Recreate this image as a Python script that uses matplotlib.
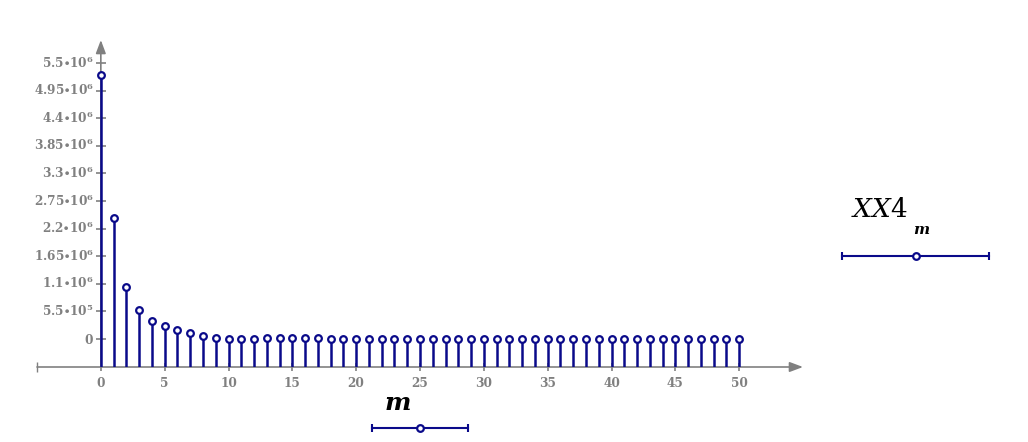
import numpy as np
import matplotlib.pyplot as plt
from matplotlib.lines import Line2D

# values
m = np.arange(0, 51)
xx4 = np.array([
    5.26e6, 2.405e6, 1.04e6, 5.78e5, 3.65e5, 2.6e5, 1.8e5, 1.15e5, 6.0e4, 2.5e4,
    0.0, -5e3, 6e3, 2.0e4, 2.7e4, 2.7e4, 2.0e4, 1.3e4, 7e3, 0.0,
    -5e3, -1.0e4, -8e3, -6e3, -4e3, -3e3, -2e3, -2e3, -3e3, -4e3,
    -4e3, -3e3, -2e3, -2e3, -2e3, -2e3, -2e3, -2e3, -2e3, -2e3,
    -2e3, -2e3, -2e3, -2e3, -2e3, -2e3, -2e3, -2e3, -2e3, -2e3,
    -2e3])
y_ticks = [0, 5.5e5, 1.1e6, 1.65e6, 2.2e6, 2.75e6, 3.3e6, 3.85e6, 4.4e6, 4.95e6, 5.5e6]
y_labels = [r"$\mathbf{0}$", r"$\mathbf{5.5{\bullet}10^{5}}$",
            r"$\mathbf{1.1{\bullet}10^{6}}$", r"$\mathbf{1.65{\bullet}10^{6}}$",
            r"$\mathbf{2.2{\bullet}10^{6}}$", r"$\mathbf{2.75{\bullet}10^{6}}$",
            r"$\mathbf{3.3{\bullet}10^{6}}$", r"$\mathbf{3.85{\bullet}10^{6}}$",
            r"$\mathbf{4.4{\bullet}10^{6}}$", r"$\mathbf{4.95{\bullet}10^{6}}$",
            r"$\mathbf{5.5{\bullet}10^{6}}$"]
x_ticks = list(range(0, 51, 5))

navy = "#0a0a8a"
grey = "#808080"
W, H = 1028, 442
plt.rcParams["mathtext.fontset"] = "dejavuserif"

fig = plt.figure(figsize=(W / 100, H / 100), dpi=100)
ax = fig.add_axes([37 / W, (H - 367) / H, (803 - 37) / W, (367 - 40) / H])
xmin, xmax = -5.0, 55.0
ymin, ymax = -0.558e6, 5.958e6
ax.set_xlim(xmin, xmax)
ax.set_ylim(ymin, ymax)
ax.axis("off")

# axes with arrows
ax.annotate("", xy=(xmax, ymin), xytext=(xmin, ymin),
            arrowprops=dict(arrowstyle="-|>,head_length=0.8,head_width=0.3",
                            color=grey, lw=1.2, shrinkA=0, shrinkB=0))
ax.annotate("", xy=(0, ymax), xytext=(0, ymin),
            arrowprops=dict(arrowstyle="-|>,head_length=0.8,head_width=0.3",
                            color=grey, lw=1.2, shrinkA=0, shrinkB=0))
ax.plot([xmin], [ymin], marker="|", ms=7, color=grey, clip_on=False)

tfont = dict(family=["DejaVu Serif"], weight="bold", size=8.7, color=grey)
for t, lab in zip(y_ticks, y_labels):
    ax.plot([0], [t], marker="_", ms=7, mew=1.2, color=grey, clip_on=False)
    ax.annotate(lab, xy=(0, t), xytext=(-5, -3.3), textcoords="offset points",
                ha="right", va="baseline", **tfont)
for t in x_ticks:
    ax.plot([t], [ymin], marker="|", ms=6, mew=1.2, color=grey, clip_on=False)
    ax.annotate(str(t), xy=(t, ymin), xytext=(0, -7), textcoords="offset points",
                ha="center", va="top", **tfont)

# stems
ax.vlines(m, ymin, xx4, color=navy, lw=1.8, zorder=3)
ax.plot(m, xx4, "o", ms=4.8, mfc="white", mec=navy, mew=1.6, zorder=4,
        clip_on=False)

# axis names / legend keys
lfont = dict(family=["DejaVu Serif"], style="italic", weight="bold",
             color="black")
fig.text(398 / W, 1 - 403 / H, "m", ha="center", va="center", size=18, **lfont)
fig.text(851 / W, 1 - 210 / H, r"$XX4$", ha="left", va="center", size=19,
         color="black")
fig.text(921 / W, 1 - 230 / H, "m", ha="center", va="center", size=11, **lfont)

for x0, x1, yy in [(372, 468, 428), (842, 989, 256)]:
    fx = [x0 / W, x1 / W]
    fy = [1 - yy / H] * 2
    fig.add_artist(Line2D(fx, fy, color=navy, lw=1.5))
    fig.add_artist(Line2D(fx, fy, ls="none", marker="|", ms=6, mew=1.5,
                          color=navy))
    fig.add_artist(Line2D([(x0 + x1) / 2 / W], [fy[0]], ls="none", marker="o",
                          ms=4.8, mfc="white", mec=navy, mew=1.6))

fig.savefig("out.png", dpi=100)
